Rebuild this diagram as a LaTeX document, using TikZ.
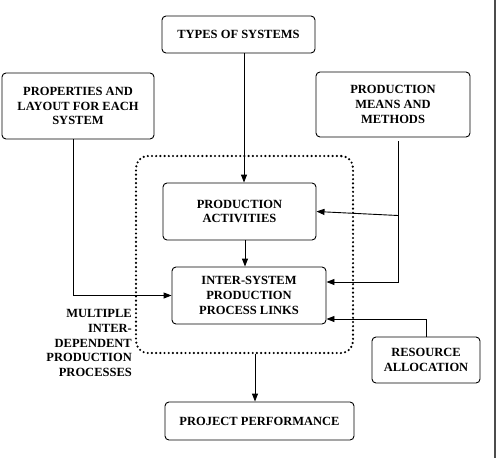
\documentclass[tikz,border=0pt]{standalone}
\usepackage{fontspec}
\setmainfont{Liberation Serif}
\usetikzlibrary{arrows.meta}
\begin{document}
\begin{tikzpicture}[x=1pt,y=-1pt,
    box/.style={draw,line width=0.9pt,rounded corners=4pt,align=center,inner sep=0pt,
      font=\fontsize{12.5}{14.6}\selectfont\bfseries},
    arr/.style={line width=0.9pt,-{Triangle[length=8pt,width=6pt]}},
    link/.style={line width=0.9pt}]
  \useasboundingbox (0,0) rectangle (500,458);
  \draw
    (238.5,34.5) node[box,minimum width=153,minimum height=37] (types){TYPES OF SYSTEMS}
    (78,106) node[box,minimum width=152,minimum height=66] (props){PROPERTIES AND\\LAYOUT FOR EACH\\SYSTEM}
    (393,104.5) node[box,minimum width=154,minimum height=65] (means){PRODUCTION\\MEANS AND\\METHODS}
    (244.5,254.5) node[draw,line width=2.4pt,line cap=round,dash pattern=on 0pt off 4.2pt,
      rounded corners=12pt,minimum width=217,minimum height=197] (grp){}
    (239.5,211.5) node[box,minimum width=153,minimum height=57] (act){PRODUCTION\\ACTIVITIES}
    (249,295.5) node[box,minimum width=154,minimum height=57] (links){INTER-SYSTEM\\PRODUCTION\\PROCESS LINKS}
    (426,360) node[box,minimum width=108,minimum height=46] (res){RESOURCE\\ALLOCATION}
    (259.5,421) node[box,minimum width=189,minimum height=38] (perf){PROJECT PERFORMANCE}
    (132,343) node[anchor=east,align=right,inner sep=0pt,
      font=\fontsize{12.5}{14.6}\selectfont\bfseries] (multi){MULTIPLE\\INTER-\\DEPENDENT\\PRODUCTION\\PROCESSES};
  \begin{scope}[arr]
    \draw ([xshift=5.5]types.south) -- ([xshift=5.5]types.south |- act.north);
    \draw ([xshift=5.5]act.south) -- ([xshift=5.5]act.south |- links.north);
    \draw ([xshift=-5]props.south) |- (links.west);
    \draw ([xshift=5,yshift=-4]means.south) |- ([yshift=13.5]links.east);
    \draw ([xshift=5,yshift=-4]means.south |- act.east) -- (act.east);
    \draw (res.north) |- ([yshift=-23.5]links.east);
    \draw ([xshift=10.5]grp.south) -- ([xshift=10.5]grp.south |- perf.north);
  \end{scope}
  \draw[line width=1.2pt,black!70] (495,0) -- (495,458);
\end{tikzpicture}
\end{document}
